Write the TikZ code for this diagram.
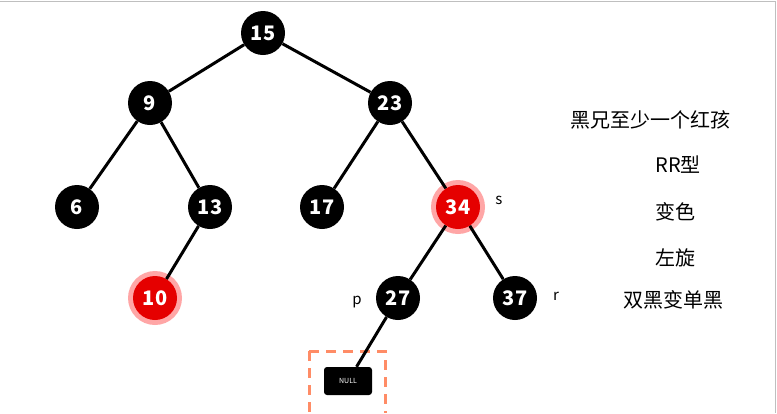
\documentclass[tikz,border=0pt]{standalone}
\usepackage{fontspec}
\setmainfont{Noto Sans CJK SC}
\begin{document}
\begin{tikzpicture}[x=1pt,y=-1pt,
  bn/.style={circle,fill=black,minimum size=44pt,inner sep=0pt,text=white,font=\fontsize{20}{20}\selectfont\bfseries},
  rn/.style={bn,fill=red!90!black},
  glow/.style={circle,fill=red!35,minimum size=54pt,inner sep=0pt},
  edge/.style={line width=3pt,black},
  lbl/.style={font=\fontsize{15}{15}\selectfont},
  rt/.style={font=\fontsize{20}{20}\selectfont}]
\useasboundingbox (0,0) rectangle (777,413);
\fill[white] (0,0) rectangle (777,413);
\draw[gray!50,line width=1pt] (0,1) -- (775,1) -- (775,413);
\node[glow] at (458,207) {};
\node[glow] at (155,298) {};
\node[bn] (n15) at (263,33) {15};
\node[bn] (n9) at (150,103) {9};
\node[bn] (n23) at (390,103) {23};
\node[bn] (n6) at (77,207) {6};
\node[bn] (n13) at (210,207) {13};
\node[bn] (n17) at (322,207) {17};
\node[rn] (n34) at (458,207) {34};
\node[rn] (n10) at (155,298) {10};
\node[bn] (n27) at (398,298) {27};
\node[bn] (n37) at (515,298) {37};
\node[fill=black,rounded corners=3pt,minimum width=48pt,minimum height=28pt,text=white,font=\fontsize{7}{7}\selectfont] (null) at (348,381) {NULL};
\draw[line width=3pt,dash pattern=on 10pt off 7pt,color=red!50!orange!60] (309,351) -- (385,351) -- (385,413) (309,351) -- (309,413);
\foreach \a/\b in {n15/n9,n15/n23,n9/n6,n9/n13,n23/n17,n23/n34,n13/n10,n34/n27,n34/n37,n27/null}
  \draw[edge] (\a) -- (\b);
\node[lbl] (ls) at (499,200) {s};
\node[lbl] (lp) at (357,302) {p};
\node[lbl] (lr) at (556,296) {r};
\node[rt] (t1) at (650,120) {黑兄至少一个红孩};
\node[rt] (t2) at (678,165) {RR型};
\node[rt] (t3) at (675,212) {变色};
\node[rt] (t4) at (675,258) {左旋};
\node[rt] (t5) at (673,300) {双黑变单黑};
\end{tikzpicture}
\end{document}
